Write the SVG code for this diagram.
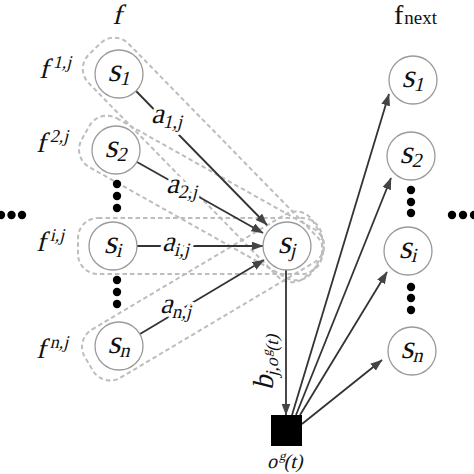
<svg xmlns="http://www.w3.org/2000/svg" width="474" height="474" viewBox="0 0 474 474">
<rect width="474" height="474" fill="#fff"/>
<defs>
<marker id="ah" markerUnits="userSpaceOnUse" markerWidth="13" markerHeight="10" refX="11.5" refY="4.5" orient="auto">
<path d="M0,0 L12,4.5 L0,9 z" fill="#444"/>
</marker>
</defs>
<g id="groups" fill="none" stroke="#bdbdbd" stroke-width="2" stroke-dasharray="4.5 3">
<rect x="47.8" y="132" width="310.4" height="56" rx="20" transform="rotate(45.67 203 160)"/>
<rect x="68.45" y="170" width="266.1" height="56" rx="20" transform="rotate(29.31 201.5 198)"/>
<rect x="78" y="218" width="244" height="56" rx="20"/>
<rect x="70.25" y="268" width="265.5" height="56" rx="20" transform="rotate(-30.76 203 296)"/>
</g>
<g id="connectors" fill="none" stroke="#333" stroke-width="1.8">
<line x1="136" y1="91" x2="267" y2="225" marker-end="url(#ah)"/>
<line x1="137" y1="162" x2="263" y2="233" marker-end="url(#ah)"/>
<line x1="137" y1="246" x2="263" y2="246" marker-end="url(#ah)"/>
<line x1="140" y1="334" x2="264" y2="260" marker-end="url(#ah)"/>
<line x1="286" y1="270" x2="286" y2="415" marker-end="url(#ah)"/>
<line x1="292" y1="415" x2="389" y2="94" marker-end="url(#ah)"/>
<line x1="296" y1="415" x2="391" y2="178" marker-end="url(#ah)"/>
<line x1="300" y1="415" x2="387" y2="272" marker-end="url(#ah)"/>
<line x1="302" y1="424" x2="382" y2="360" marker-end="url(#ah)"/>
</g>
<g id="edge-labels" fill="#111" font-family="Liberation Serif" font-style="normal">
<text transform="translate(151 123) skewX(-14)" x="0" y="0" font-size="29" stroke="#fff" stroke-width="7" stroke-linejoin="round" paint-order="stroke">a<tspan font-size="19" dy="5">1,j</tspan></text>
<text transform="translate(166 193) skewX(-14)" x="0" y="0" font-size="29" stroke="#fff" stroke-width="7" stroke-linejoin="round" paint-order="stroke">a<tspan font-size="19" dy="5">2,j</tspan></text>
<text transform="translate(162 251) skewX(-14)" x="0" y="0" font-size="29" stroke="#fff" stroke-width="7" stroke-linejoin="round" paint-order="stroke">a<tspan font-size="19" dy="5">i,j</tspan></text>
<text transform="translate(160 313) skewX(-14)" x="0" y="0" font-size="29" stroke="#fff" stroke-width="7" stroke-linejoin="round" paint-order="stroke">a<tspan font-size="19" dy="5">n,j</tspan></text>
<text transform="translate(273 390) rotate(-90) skewX(-14)" x="0" y="0" font-size="29">b<tspan font-size="18" dy="5">j,o</tspan><tspan font-size="13" dy="-7">g</tspan><tspan font-size="18" dy="7">(t)</tspan></text>
</g>
<g id="nodes" fill="#111" font-family="Liberation Serif" font-style="normal" font-size="33" text-anchor="middle">
<g id="s1"><circle cx="119" cy="74" r="24" fill="#fff" stroke="#9a9a9a" stroke-width="1.3"/><text transform="translate(119 81) skewX(-14)" x="0" y="0">s<tspan font-size="20" dy="4">1</tspan></text></g>
<g id="s2"><circle cx="116" cy="150" r="24" fill="#fff" stroke="#9a9a9a" stroke-width="1.3"/><text transform="translate(116 157) skewX(-14)" x="0" y="0">s<tspan font-size="20" dy="4">2</tspan></text></g>
<g id="si"><circle cx="113" cy="246" r="24" fill="#fff" stroke="#9a9a9a" stroke-width="1.3"/><text transform="translate(113 253) skewX(-14)" x="0" y="0">s<tspan font-size="20" dy="4">i</tspan></text></g>
<g id="sn"><circle cx="119" cy="346" r="24" fill="#fff" stroke="#9a9a9a" stroke-width="1.3"/><text transform="translate(119 353) skewX(-14)" x="0" y="0">s<tspan font-size="20" dy="4">n</tspan></text></g>
<g id="sj"><circle cx="287" cy="246" r="24" fill="#fff" stroke="#9a9a9a" stroke-width="1.3"/><text transform="translate(287 253) skewX(-14)" x="0" y="0">s<tspan font-size="20" dy="4">j</tspan></text></g>
<g id="next-s1"><circle cx="413" cy="80" r="24" fill="#fff" stroke="#9a9a9a" stroke-width="1.3"/><text transform="translate(413 87) skewX(-14)" x="0" y="0">s<tspan font-size="20" dy="4">1</tspan></text></g>
<g id="next-s2"><circle cx="411" cy="156" r="24" fill="#fff" stroke="#9a9a9a" stroke-width="1.3"/><text transform="translate(411 163) skewX(-14)" x="0" y="0">s<tspan font-size="20" dy="4">2</tspan></text></g>
<g id="next-si"><circle cx="408" cy="251" r="24" fill="#fff" stroke="#9a9a9a" stroke-width="1.3"/><text transform="translate(408 258) skewX(-14)" x="0" y="0">s<tspan font-size="20" dy="4">i</tspan></text></g>
<g id="next-sn"><circle cx="412" cy="351" r="24" fill="#fff" stroke="#9a9a9a" stroke-width="1.3"/><text transform="translate(412 358) skewX(-14)" x="0" y="0">s<tspan font-size="20" dy="4">n</tspan></text></g>
</g>
<g id="obs" fill="#111" font-family="Liberation Serif" font-style="normal">
<rect x="271" y="415" width="31" height="31" fill="#000"/>
<text transform="translate(267 468) skewX(-14)" x="0" y="0" font-size="20">o<tspan font-size="13" dy="-8">g</tspan><tspan dy="8">(t)</tspan></text>
</g>
<g id="titles" fill="#111" font-family="Liberation Serif" font-style="normal">
<text transform="translate(117 24) skewX(-14)" x="0" y="0" font-size="28" text-anchor="middle">f</text>
<text x="394" y="24" font-size="28"><tspan font-style="normal" transform="skewX(-14)">f</tspan><tspan font-size="19" dx="1">next</tspan></text>
<text transform="translate(39 78) skewX(-14)" x="0" y="0" font-size="28">f<tspan font-size="18" dy="-10" dx="2">1,j</tspan></text>
<text transform="translate(36 152) skewX(-14)" x="0" y="0" font-size="28">f<tspan font-size="18" dy="-10" dx="2">2,j</tspan></text>
<text transform="translate(36 251) skewX(-14)" x="0" y="0" font-size="28">f<tspan font-size="18" dy="-10" dx="2">i,j</tspan></text>
<text transform="translate(36 358) skewX(-14)" x="0" y="0" font-size="28">f<tspan font-size="18" dy="-10" dx="2">n,j</tspan></text>
</g>
<g id="dots" fill="#000">
<circle cx="117" cy="184" r="4.2"/><circle cx="117" cy="196" r="4.2"/><circle cx="117" cy="208" r="4.2"/>
<circle cx="117" cy="280" r="4.2"/><circle cx="117" cy="292" r="4.2"/><circle cx="117" cy="304" r="4.2"/>
<circle cx="411" cy="190" r="4.2"/><circle cx="411" cy="202" r="4.2"/><circle cx="411" cy="213" r="4.2"/>
<circle cx="411" cy="287" r="4.2"/><circle cx="411" cy="298" r="4.2"/><circle cx="411" cy="310" r="4.2"/>
<circle cx="1" cy="215" r="4.2"/><circle cx="11.5" cy="215" r="4.2"/><circle cx="22" cy="215" r="4.2"/>
<circle cx="452" cy="215" r="4.2"/><circle cx="463" cy="215" r="4.2"/><circle cx="474" cy="215" r="4.2"/>
</g>
</svg>
